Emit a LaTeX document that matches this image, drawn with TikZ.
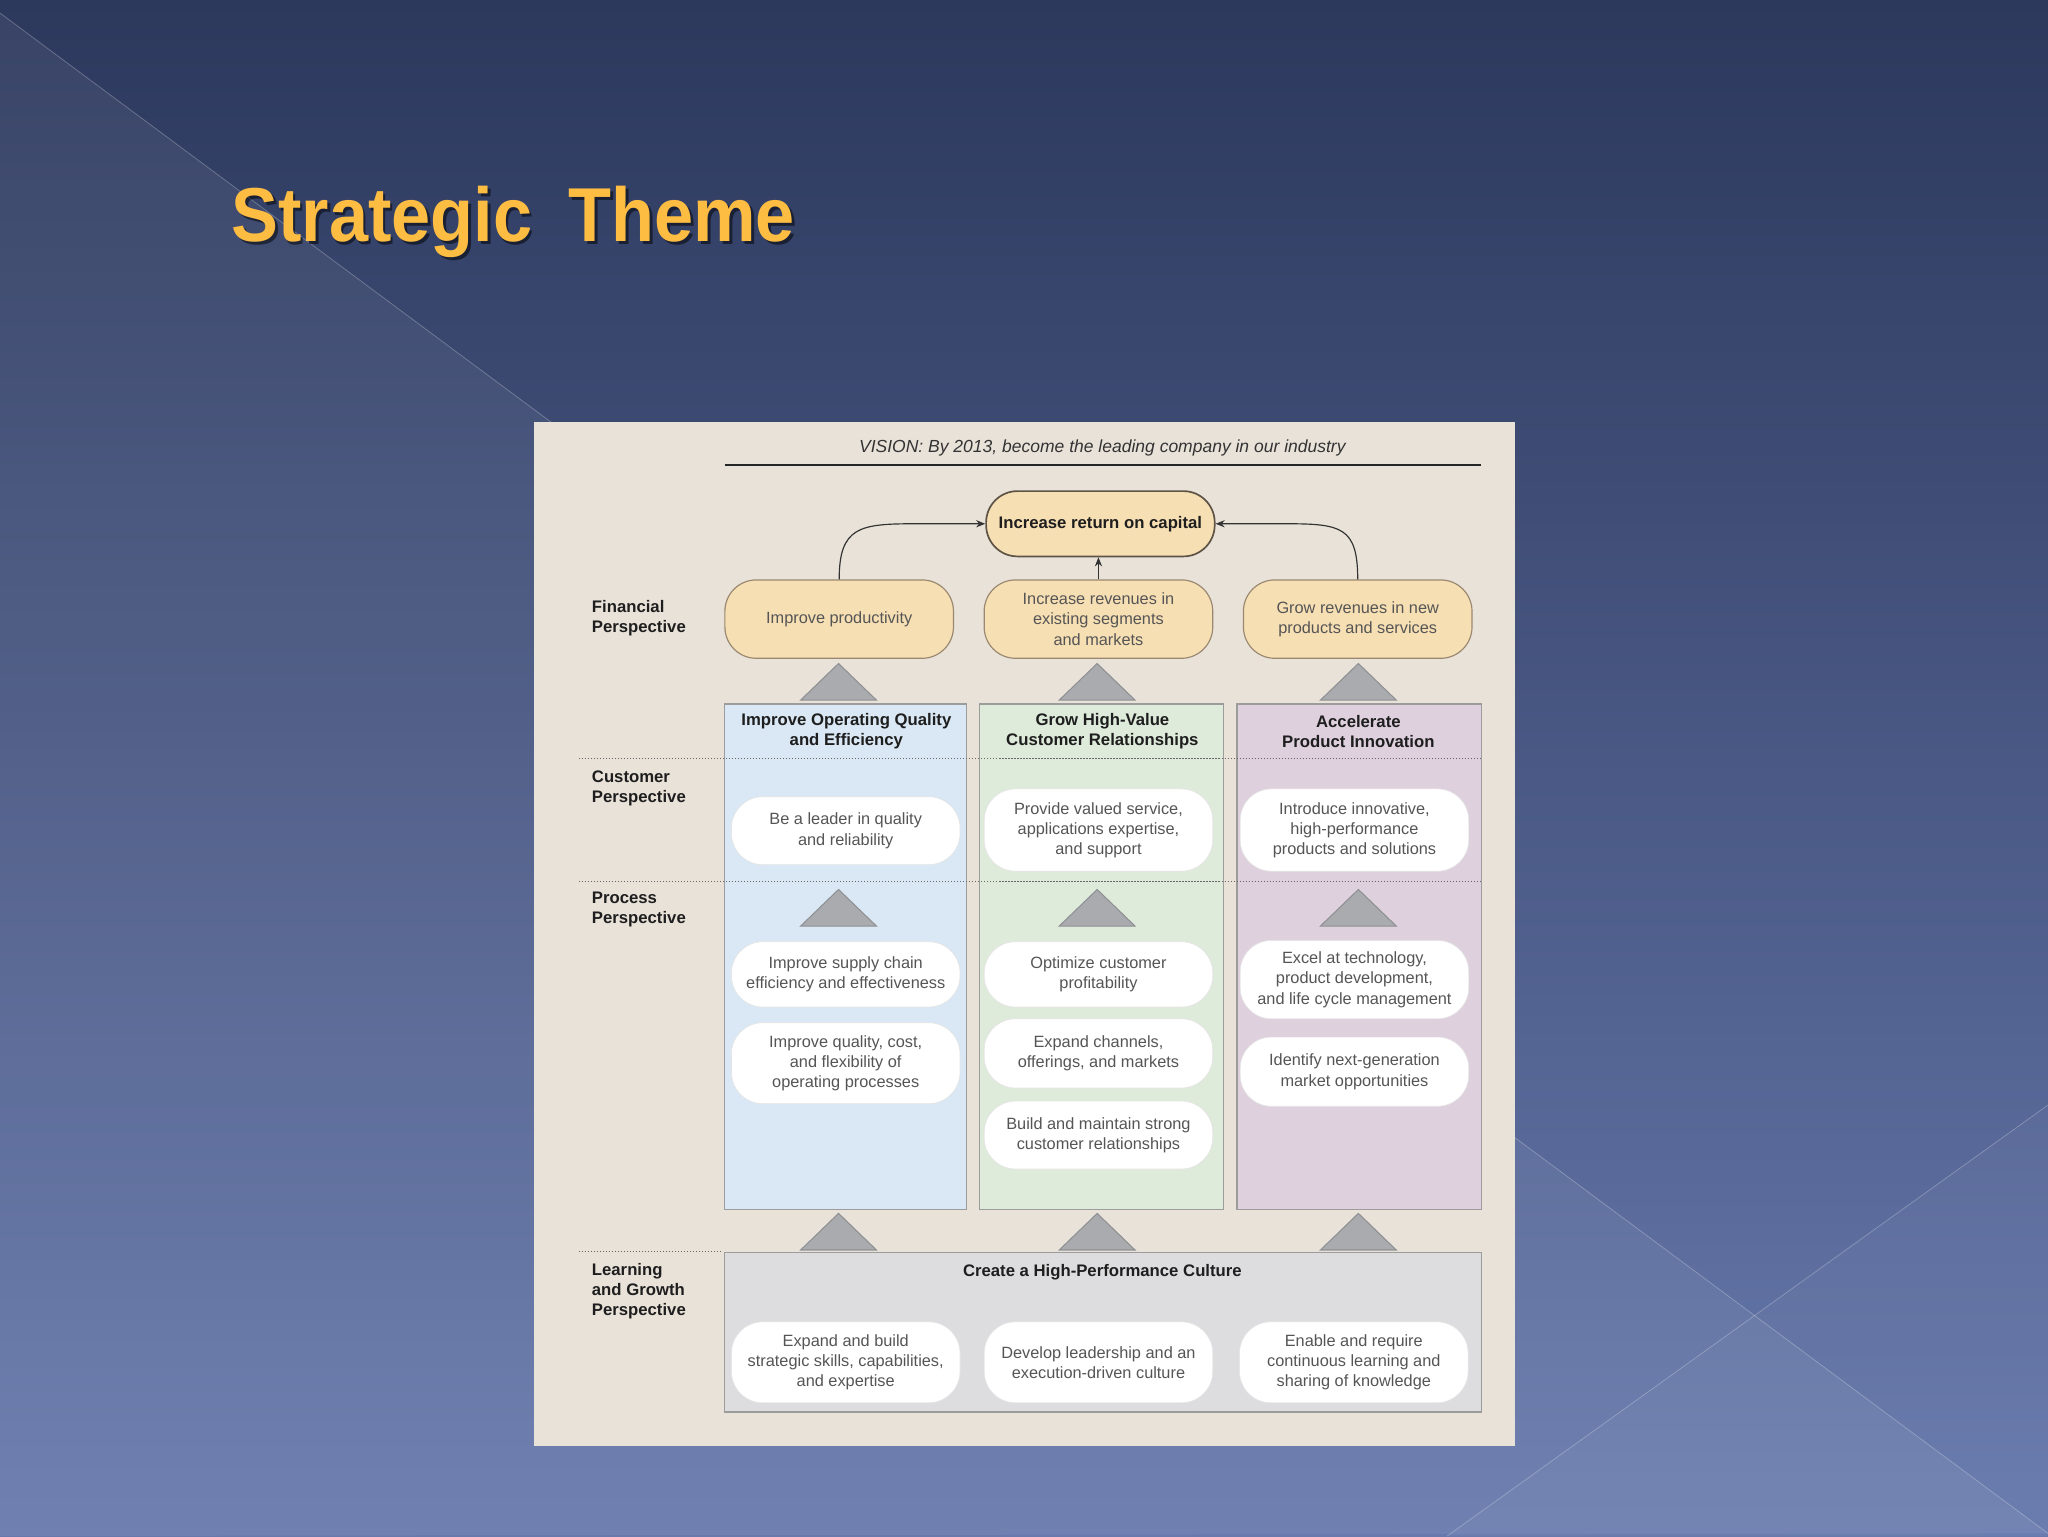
\documentclass[tikz,border=0pt]{standalone}
\usepackage{fontspec}
\setmainfont{Liberation Sans}
\newfontfamily\titlefont{Liberation Sans}[FakeStretch=0.92]
\usetikzlibrary{arrows.meta}
\definecolor{bgtop}{HTML}{2C385C}
\definecolor{bgbot}{HTML}{6779AD}
\definecolor{panelbg}{HTML}{E9E2D9}
\definecolor{finfill}{HTML}{F7DFB4}
\definecolor{finline}{HTML}{9A8870}
\definecolor{topline}{HTML}{5E5446}
\definecolor{pilltext}{HTML}{555555}
\definecolor{darktext}{HTML}{1E1E1E}
\definecolor{bluefill}{HTML}{D9E8F4}
\definecolor{greenfill}{HTML}{DEEADA}
\definecolor{mauvefill}{HTML}{DED0DD}
\definecolor{greyfill}{HTML}{DDDDDF}
\definecolor{boxline}{HTML}{9C9C9C}
\definecolor{trifill}{HTML}{A9ABAE}
\definecolor{triline}{HTML}{8E9093}
\definecolor{titlecol}{HTML}{FDBC42}
\newcommand\dfont{\fontsize{12.5}{15.5}\selectfont}
\newcommand\bfont{\fontsize{12.8}{15.5}\selectfont\bfseries}
\newcommand\mytri[2]{\draw[tri] (#1,#2) -- (#1+29,#2+28) -- (#1-29,#2+28) -- cycle;}
\begin{document}
\begin{tikzpicture}[x=1pt,y=-1pt,
  fin/.style={draw=finline, fill=finfill, rounded corners=24pt, line width=0.9pt,
    minimum width=175pt, minimum height=60pt, align=center, text=pilltext, font=\dfont, inner sep=2pt},
  topbox/.style={draw=topline, fill=finfill, rounded corners=24pt, line width=1.3pt,
    minimum width=175pt, minimum height=50pt, align=center, text=darktext, font=\bfont, inner sep=2pt},
  pill/.style={fill=white, draw=white!90!black, line width=0.5pt, rounded corners=24pt,
    minimum width=175pt, align=center, text=pilltext, font=\dfont, inner sep=2pt},
  hdr/.style={align=center, text=darktext, font=\bfont, inner sep=0pt},
  side/.style={align=left, text=darktext, font=\bfont, inner sep=0pt, anchor=west},
  colbox/.style={draw=boxline, line width=0.9pt},
  tri/.style={fill=trifill, draw=triline, line width=0.8pt, line join=miter},
  dots/.style={draw=black!60, line width=0.9pt, dash pattern=on 1pt off 1.3pt},
  arr/.style={draw=black!80, line width=0.9pt, -{Stealth[length=7pt,width=5.5pt]}}]
\useasboundingbox (0,0) rectangle (1568,1176);
% background
\shade[top color=bgtop, bottom color=bgbot] (0,0) rectangle (1568,1176);
\fill[white, opacity=0.06] (0,10) -- (1568,1174) -- (0,1176) -- cycle;
\fill[white, opacity=0.03] (1568,846) -- (1568,1176) -- (1108,1176) -- cycle;
\draw[white, opacity=0.25, line width=0.6pt] (0,10) -- (1568,1174);
\draw[white, opacity=0.25, line width=0.6pt] (1568,846) -- (1108,1176);
% title
\node[anchor=base west, inner sep=0pt, text=black, opacity=0.5, font=\titlefont\fontsize{58.5}{60}\selectfont\bfseries] (titleshadow) at (179,187) {Strategic\hspace{0.22em} Theme};
\node[anchor=base west, inner sep=0pt, text=titlecol, font=\titlefont\fontsize{58.5}{60}\selectfont\bfseries] (title) at (177,185) {Strategic\hspace{0.22em} Theme};
% panel
\fill[panelbg] (409,323) rectangle (1160,1107);
\node[font=\fontsize{13.4}{15.5}\selectfont\itshape, text=black!80, inner sep=0pt] (vision) at (844,343) {VISION: By 2013, become the leading company in our industry};
\draw[black!85, line width=1.5pt] (555,356) -- (1134,356);
% columns
\draw[colbox, fill=bluefill] (555,539) rectangle (740,926);
\draw[colbox, fill=greenfill] (750,539) rectangle (937,926);
\draw[colbox, fill=mauvefill] (947,539) rectangle (1134,926);
\draw[colbox, fill=greyfill] (555,959) rectangle (1134,1081);
% dotted separators
\draw[dots] (443,581) -- (1134,581);
\draw[dots] (443,675) -- (1134,675);
\draw[dots] (443,958) -- (552,958);
% side labels
\node[side] (lfin) at (453,473.5) {Financial\\Perspective};
\node[side] (lcus) at (453,603.5) {Customer\\Perspective};
\node[side] (lpro) at (453,696.5) {Process\\Perspective};
\node[side] (llg) at (453,988.5) {Learning\\and Growth\\Perspective};
% financial
\node[topbox] (top) at (842.5,401) {Increase return on capital};
\node[fin] (f1) at (642.5,474) {Improve productivity};
\node[fin] (f2) at (841,474) {Increase revenues in\\existing segments\\and markets};
\node[fin] (f3) at (1039.5,474) {Grow revenues in new\\products and services};
\draw[arr] (f1.north) .. controls +(0,-40) and +(-42,0) .. (700,401) -- (top.west);
\draw[arr] (f3.north) .. controls +(0,-40) and +(42,0) .. (985,401) -- (top.east);
\draw[arr] (f2.north) -- (f2.north |- top.south);
% triangles
\mytri{642}{508}\mytri{840}{508}\mytri{1040}{508}
\mytri{642}{681}\mytri{840}{681}\mytri{1040}{681}
\mytri{642}{929}\mytri{840}{929}\mytri{1040}{929}
% headers
\node[hdr] (h1) at (648,560) {Improve Operating Quality\\and Efficiency};
\node[hdr] (h2) at (844,560) {Grow High-Value\\Customer Relationships};
\node[hdr] (h3) at (1040,560) {Accelerate\\Product Innovation};
% customer
\node[pill, minimum height=52pt] (c1) at (647.5,636) {Be a leader in quality\\and reliability};
\node[pill, minimum height=63pt] (c2) at (841,635.5) {Provide valued service,\\applications expertise,\\and support};
\node[pill, minimum height=63pt] (c3) at (1037,635.5) {Introduce innovative,\\high-performance\\products and solutions};
% process
\node[pill, minimum height=50pt] (p11) at (647.5,746) {Improve supply chain\\efficiency and effectiveness};
\node[pill, minimum height=62pt] (p12) at (647.5,814) {Improve quality, cost,\\and flexibility of\\operating processes};
\node[pill, minimum height=50pt] (p21) at (841,746) {Optimize customer\\profitability};
\node[pill, minimum height=53pt] (p22) at (841,806.5) {Expand channels,\\offerings, and markets};
\node[pill, minimum height=52pt] (p23) at (841,869) {Build and maintain strong\\customer relationships};
\node[pill, minimum height=60pt] (p31) at (1037,750) {Excel at technology,\\product development,\\and life cycle management};
\node[pill, minimum height=53pt] (p32) at (1037,820.5) {Identify next-generation\\market opportunities};
% learning and growth
\node[hdr] (lgt) at (844,974) {Create a High-Performance Culture};
\node[pill, minimum height=62pt] (g1) at (647.5,1043) {Expand and build\\strategic skills, capabilities,\\and expertise};
\node[pill, minimum height=62pt] (g2) at (841,1043) {Develop leadership and an\\execution-driven culture};
\node[pill, minimum height=62pt] (g3) at (1036.5,1043) {Enable and require\\continuous learning and\\sharing of knowledge};
\end{tikzpicture}
\end{document}
